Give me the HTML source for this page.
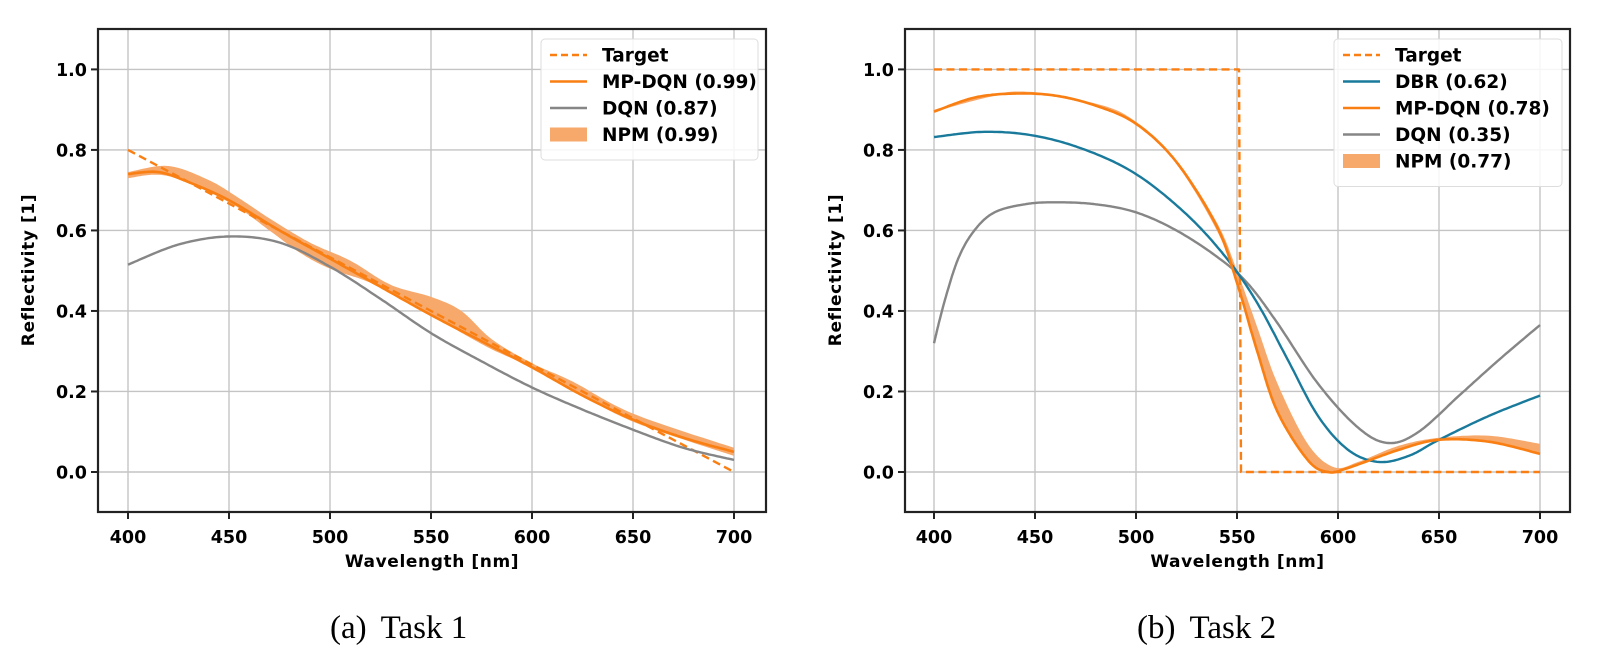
<!DOCTYPE html>
<html><head><meta charset="utf-8">
<style>
html,body{margin:0;padding:0;background:#fff;}
svg{display:block;}
text{font-family:"DejaVu Sans","Liberation Sans",sans-serif;font-weight:bold;}
.cap{font-family:"Liberation Serif",serif;font-weight:normal;font-size:33px;}
</style></head>
<body>
<svg id="s" width="1600" height="645" viewBox="0 0 1600 645" xmlns="http://www.w3.org/2000/svg"></svg>
<script>
var S=document.getElementById('s');var out='';
var OR='#f97f12',FILL='#f7a86b',GR='#868686',BL='#1a7a9c';
function interp(pts){
  var r=[];
  for(var i=0;i<pts.length-1;i++){
    var p0=pts[Math.max(0,i-1)],p1=pts[i],p2=pts[i+1],p3=pts[Math.min(pts.length-1,i+2)];
    for(var t=0;t<1;t+=0.05){
      var t2=t*t,t3=t2*t;
      var x=0.5*((2*p1[0])+(-p0[0]+p2[0])*t+(2*p0[0]-5*p1[0]+4*p2[0]-p3[0])*t2+(-p0[0]+3*p1[0]-3*p2[0]+p3[0])*t3);
      var y=0.5*((2*p1[1])+(-p0[1]+p2[1])*t+(2*p0[1]-5*p1[1]+4*p2[1]-p3[1])*t2+(-p0[1]+3*p1[1]-3*p2[1]+p3[1])*t3);
      r.push([x,y]);
    }
  }
  r.push(pts[pts.length-1]);return r;
}
function axes(L,R,x400,lab,legend,series){
  var T=29,B=512;
  function X(v){return x400+(v-400)*2.02;}
  function Y(v){return 472-v*402.6;}
  for(var v=400;v<=700;v+=50){out+='<line x1="'+X(v)+'" x2="'+X(v)+'" y1="'+T+'" y2="'+B+'" stroke="#c4c4c4" stroke-width="1.4"/>';}
  for(var k=0;k<=5;k++){var y=Y(k*0.2);out+='<line x1="'+L+'" x2="'+R+'" y1="'+y+'" y2="'+y+'" stroke="#c4c4c4" stroke-width="1.4"/>';}
  series.forEach(function(s){
    if(s.band){
      var a=interp(s.lo.map(function(p){return [X(p[0]),Y(p[1])]})),b=interp(s.hi.map(function(p){return [X(p[0]),Y(p[1])]}));
      var d='M'+a.map(function(p){return p[0].toFixed(1)+','+p[1].toFixed(1)}).join('L')+'L'+b.reverse().map(function(p){return p[0].toFixed(1)+','+p[1].toFixed(1)}).join('L')+'Z';
      out+='<path d="'+d+'" fill="'+FILL+'"/>';
    } else {
      var pts=s.raw?s.pts.map(function(p){return [X(p[0]),Y(p[1])]}):interp(s.pts.map(function(p){return [X(p[0]),Y(p[1])]}));
      out+='<polyline points="'+pts.map(function(p){return p[0].toFixed(1)+','+p[1].toFixed(1)}).join(' ')+'" fill="none" stroke="'+s.c+'" stroke-width="'+(s.w||2.4)+'"'+(s.dash?' stroke-dasharray="8,4.5"':'')+' stroke-linejoin="round"/>';
    }
  });
  out+='<rect x="'+L+'" y="'+T+'" width="'+(R-L)+'" height="'+(B-T)+'" fill="none" stroke="#222" stroke-width="2.2"/>';
  for(var v=400;v<=700;v+=50){out+='<line x1="'+X(v)+'" x2="'+X(v)+'" y1="'+B+'" y2="'+(B+7)+'" stroke="#222" stroke-width="2"/><text x="'+X(v)+'" y="543" font-size="17.5" text-anchor="middle">'+v+'</text>';}
  for(var k=0;k<=5;k++){var y=Y(k*0.2);out+='<line x1="'+(L-7)+'" x2="'+L+'" y1="'+y+'" y2="'+y+'" stroke="#222" stroke-width="2"/><text x="'+(L-11)+'" y="'+(y+6.5)+'" font-size="17.5" text-anchor="end">'+(k*0.2).toFixed(1)+'</text>';}
  out+='<text x="'+((L+R)/2)+'" y="567" font-size="17" text-anchor="middle" letter-spacing="0.6">Wavelength [nm]</text>';
  out+='<text transform="translate('+(L-64)+',270) rotate(-90)" font-size="17" text-anchor="middle" letter-spacing="0.6">Reflectivity [1]</text>';
  var lx=legend.x,ly=39,h=legend.items.length*26.5+15;
  out+='<rect x="'+lx+'" y="'+ly+'" width="'+legend.w+'" height="'+h+'" rx="4" fill="#fff" fill-opacity="0.85" stroke="#ddd"/>';
  legend.items.forEach(function(it,i){
    var cy=ly+16+i*26.5;
    if(it.band)out+='<rect x="'+(lx+9)+'" y="'+(cy-7)+'" width="37" height="14" fill="'+FILL+'"/>';
    else out+='<line x1="'+(lx+9)+'" x2="'+(lx+46)+'" y1="'+cy+'" y2="'+cy+'" stroke="'+it.c+'" stroke-width="2.4"'+(it.dash?' stroke-dasharray="7,4"':'')+'/>';
    out+='<text x="'+(lx+61)+'" y="'+(cy+6.5)+'" font-size="18.5">'+it.t+'</text>';
  });
}
axes(98,766,128,'a',{x:541,w:217,items:[{t:'Target',c:OR,dash:1},{t:'MP-DQN (0.99)',c:OR},{t:'DQN (0.87)',c:GR},{t:'NPM (0.99)',band:1}]},[
 {band:1,lo:[[400,0.73],[420,0.735],[450,0.67],[470,0.6],[485,0.545],[500,0.505],[520,0.47],[540,0.415],[560,0.36],[580,0.305],[600,0.26],[620,0.205],[650,0.125],[700,0.04]],
         hi:[[400,0.745],[420,0.76],[440,0.725],[455,0.68],[470,0.63],[490,0.57],[510,0.525],[530,0.465],[550,0.435],[565,0.4],[580,0.33],[600,0.27],[620,0.225],[650,0.145],[700,0.06]]},
 {pts:[[400,0.8],[700,0.0]],c:OR,dash:1,raw:1},
 {pts:[[400,0.74],[415,0.745],[430,0.72],[450,0.675],[475,0.6],[500,0.53],[525,0.46],[550,0.39],[575,0.325],[600,0.26],[625,0.19],[650,0.13],[675,0.085],[700,0.05]],c:OR,w:2.6},
 {pts:[[400,0.515],[425,0.565],[450,0.585],[475,0.57],[500,0.51],[525,0.43],[550,0.345],[575,0.275],[600,0.21],[625,0.155],[650,0.105],[675,0.06],[700,0.03]],c:GR}
]);
axes(905,1570,934,'b',{x:1334,w:228,items:[{t:'Target',c:OR,dash:1},{t:'DBR (0.62)',c:BL},{t:'MP-DQN (0.78)',c:OR},{t:'DQN (0.35)',c:GR},{t:'NPM (0.77)',band:1}]},[
 {band:1,lo:[[400,0.895],[440,0.94],[480,0.91],[500,0.865],[520,0.765],[540,0.6],[550,0.47],[560,0.3],[570,0.15],[585,0.03],[595,0.0],[605,0.01],[630,0.055],[650,0.08],[675,0.075],[700,0.045]],
         hi:[[400,0.9],[440,0.945],[480,0.915],[500,0.87],[520,0.775],[540,0.62],[550,0.5],[560,0.36],[570,0.22],[585,0.07],[598,0.012],[610,0.025],[630,0.065],[650,0.085],[675,0.09],[700,0.07]]},
 {pts:[[400,1],[551,1],[552,0],[700,0]],c:OR,dash:1,raw:1},
 {pts:[[400,0.32],[405,0.42],[412,0.53],[420,0.6],[430,0.645],[445,0.665],[460,0.67],[480,0.665],[500,0.645],[520,0.6],[540,0.535],[555,0.47],[570,0.37],[590,0.22],[610,0.11],[625,0.072],[640,0.1],[660,0.19],[680,0.28],[700,0.365]],c:GR},
 {pts:[[400,0.832],[425,0.845],[450,0.835],[475,0.8],[500,0.74],[525,0.64],[545,0.53],[560,0.42],[575,0.28],[590,0.14],[605,0.055],[620,0.025],[635,0.04],[650,0.08],[675,0.14],[700,0.19]],c:BL},
 {pts:[[400,0.895],[420,0.93],[440,0.94],[460,0.935],[480,0.91],[500,0.865],[520,0.77],[540,0.61],[550,0.47],[560,0.3],[570,0.15],[585,0.03],[595,0.0],[605,0.01],[630,0.055],[650,0.08],[675,0.075],[700,0.045]],c:OR,w:2.6}
]);
out+='<text class="cap" x="330" y="638">(a)<tspan dx="14">Task 1</tspan></text>';
out+='<text class="cap" x="1137" y="638">(b)<tspan dx="14">Task 2</tspan></text>';
S.innerHTML=out;
</script>
</body></html>
